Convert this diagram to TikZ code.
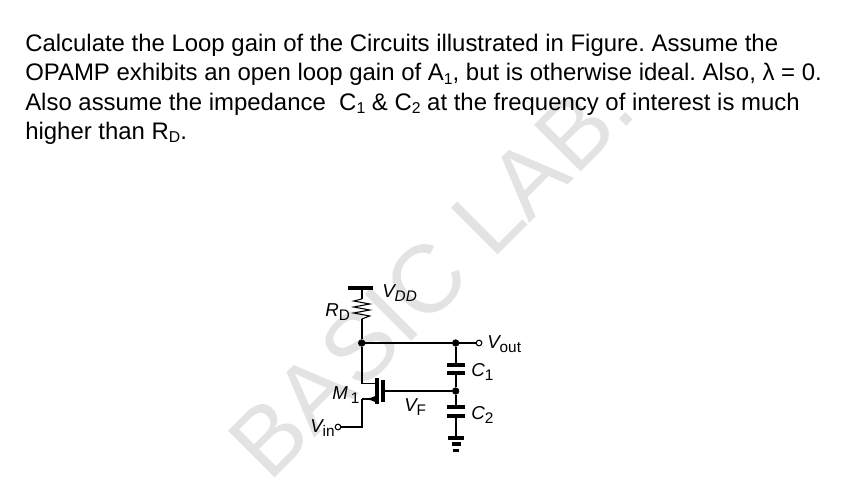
\documentclass[tikz,border=0pt]{standalone}
\usepackage{fontspec}
\setmainfont{Liberation Sans}
\usetikzlibrary{decorations.markings}
\tikzset{->-/.style={decoration={markings,mark=at position #1 with {\arrow[scale=1.3]{>}}},postaction={decorate}}}
\tikzset{txt/.style={anchor=base west,inner sep=0pt,font=\fontsize{17.95pt}{20pt}\selectfont}}
\tikzset{lbl/.style={anchor=base west,inner sep=0pt,font=\fontsize{14pt}{15pt}\selectfont\itshape}}
\tikzset{dot/.style={circle,draw=black,fill=black,inner sep=0pt,minimum size=5pt}}
\tikzset{pin/.style={circle,draw=black,fill=white,inner sep=0pt,minimum size=4.2pt,line width=0.8pt}}
\tikzset{wire/.style={line width=1.2pt}}
\tikzset{plate/.style={line width=2.4pt}}
\definecolor{wmark}{gray}{0.89}
\newcommand{\tsb}[1]{\raisebox{-2.6pt}{\fontsize{11.8pt}{12pt}\selectfont #1}}
\newcommand{\lsb}[1]{\raisebox{-3.5pt}{\fontsize{11.5pt}{12pt}\selectfont #1}}

\begin{document}
\frenchspacing
\begin{tikzpicture}[>=latex,x=0.75pt,y=-0.75pt]
\useasboundingbox (0,0) rectangle (853,503);

%watermark
\node[anchor=base west,inner sep=0pt,rotate=45,text=wmark,font=\fontsize{72pt}{80pt}\selectfont] (W) at (269.5,483.5) {BASIC LAB.};

%text
\node[txt] (L1) at (25,52)  {Calculate the Loop gain of the Circuits illustrated in Figure. Assume the};
\node[txt] (L2) at (25,81)  {OPAMP exhibits an open loop gain of A\tsb{1}, but is otherwise ideal. Also, λ = 0.};
\node[txt] (L3) at (25,110) {Also assume the impedance\ \ C\tsb{1} \& C\tsb{2} at the frequency of interest is much};
\node[txt] (L4) at (25,139) {higher than R\tsb{D}.};

%supply and output
\coordinate (Vl) at (348,288);
\coordinate (Vr) at (373,288);
\coordinate (V)  at (361.7,288);
\coordinate (Rt) at (361.7,299);
\coordinate (Rb) at (361.7,319);
\node[dot] (X) at (361.7,343) {};
\node[dot] (Y) at (455.7,343) {};
\node[pin] (O) at (479,343) {};
\node[dot] (F) at (455.7,391) {};
\node[pin] (I) at (338,427) {};

%transistor
\coordinate (Dt) at (361.7,383.5);
\coordinate (D)  at (377,383.5);
\coordinate (S)  at (377,399);
\coordinate (St) at (361.7,399);
\coordinate (Sb) at (361.7,427);
\coordinate (Ct) at (377,378);
\coordinate (Cb) at (377,404);
\coordinate (Gt) at (383,380);
\coordinate (Gb) at (383,402);
\coordinate (G)  at (383,391);

%capacitors
\coordinate (A1) at (447,365);	\coordinate (A2) at (465,365);
\coordinate (B1) at (447,373);	\coordinate (B2) at (465,373);
\coordinate (A3) at (447,407);	\coordinate (A4) at (465,407);
\coordinate (B3) at (447,416);	\coordinate (B4) at (465,416);
\coordinate (T1) at (455.7,365);
\coordinate (T2) at (455.7,373);
\coordinate (T3) at (455.7,407);
\coordinate (T4) at (455.7,416);

%ground
\coordinate (E1) at (448,438);	\coordinate (E2) at (463.5,438);
\coordinate (E3) at (451.5,444);	\coordinate (E4) at (460.5,444);
\coordinate (E5) at (453,450.5);	\coordinate (E6) at (458.5,450.5);
\coordinate (E)  at (455.7,438);

%wires
\draw [line width=3pt] (Vl)--(Vr);
\draw [wire] (V)--(Rt);
\draw [line width=0.8pt] (Rt)--++(-8,2)--++(16,3)--++(-16,3)--++(16,3)--++(-16,3)--++(16,3)--(Rb);
\draw [wire] (Rb)--(X);
\draw [wire] (X)--(Y);
\draw [wire] (Y)--(O);
\draw [wire] (X)--(Dt)--(D);
\draw [->-=.7, wire] (S)--(St);
\draw [wire] (St)--(Sb)--(I);
\draw [wire] (G)--(F);
\draw [wire] (Y)--(T1);
\draw [wire] (T2)--(F);
\draw [wire] (F)--(T3);
\draw [wire] (T4)--(E);

%plates
\draw [line width=2.5pt] (Ct)--(Cb);
\draw [line width=2.5pt] (Gt)--(Gb);
\draw [plate] (A1)--(A2);
\draw [plate] (B1)--(B2);
\draw [plate] (A3)--(A4);
\draw [plate] (B3)--(B4);
\draw [line width=2.6pt] (E1)--(E2);
\draw [line width=2.6pt] (E3)--(E4);
\draw [line width=2.6pt] (E5)--(E6);

%labels
\node[lbl] (lVDD) at (382,297) {V\lsb{DD}};
\node[lbl] (lRD)  at (325,316) {R\lsb{\upshape D}};
\node[lbl] (lVo)  at (487,348) {V\lsb{\upshape out}};
\node[lbl] (lC1)  at (471,376) {C\lsb{\upshape 1}};
\node[lbl] (lM1)  at (332,399) {M\,\lsb{\upshape 1}};
\node[lbl] (lVF)  at (404,411) {V\lsb{\upshape F}};
\node[lbl] (lC2)  at (471,419) {C\lsb{\upshape 2}};
\node[lbl] (lVi)  at (310,432) {V\lsb{\upshape in}};
\end{tikzpicture}
\end{document}
